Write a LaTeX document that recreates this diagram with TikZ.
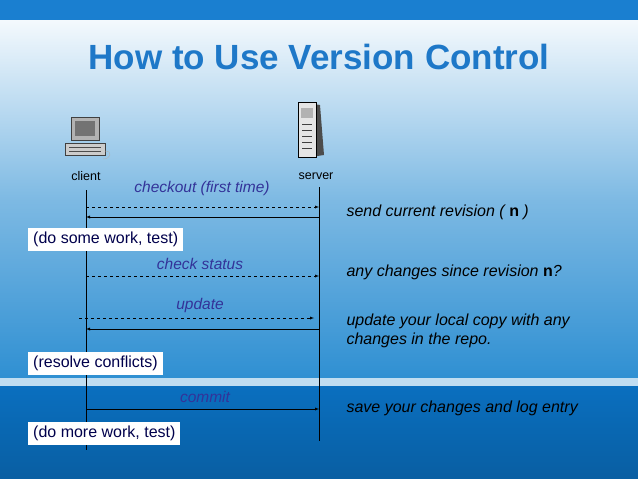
\documentclass[tikz,border=0pt]{standalone}
\usepackage{fontspec}
\setmainfont{Liberation Sans}
\begin{document}
\begin{tikzpicture}[x=1pt,y=-1pt,
  lab/.style={font=\itshape\fontsize{15.5}{18}\selectfont, text=blue!50!black!80!white},
  note/.style={font=\itshape\fontsize{16}{19}\selectfont, anchor=west, align=left},
  wbox/.style={fill=white, anchor=west, font=\fontsize{16}{18}\selectfont, text=blue!30!black, inner xsep=5pt, inner ysep=2pt, minimum height=23pt},
  msg/.style={-latex, thin},
  ret/.style={-latex, thin, dashed}]
\useasboundingbox (0,0) rectangle (638,479);
\definecolor{topbar}{HTML}{1A7FD0}
\definecolor{lightsky}{HTML}{F4F9FD}
\definecolor{midsky}{HTML}{2E8FD2}
\definecolor{deep}{HTML}{0A6FBF}
\definecolor{ttl}{HTML}{1E78C8}
\shade[top color=lightsky, bottom color=midsky, middle color=lightsky!40!midsky] (0,20) rectangle (638,380);
\fill[topbar] (0,0) rectangle (638,20);
\fill[white!70!midsky] (0,378) rectangle (638,386);
\shade[top color=deep, bottom color=deep!85!black] (0,386) rectangle (638,479);
\node[font=\bfseries\fontsize{35}{38}\selectfont, text=ttl] (title) at (319,57) {How to Use Version Control};
% client icon
\begin{scope}[shift={(85,137)}]
\fill[gray!60, draw=gray!50!black] (-14,-20) rectangle (14,3);
\fill[gray!90!black] (-10,-16) rectangle (10,-1);
\fill[gray!40, draw=gray!50!black] (-20,6) rectangle (20,18);
\draw[gray!60!black] (-16,10) -- (16,10) (-16,14) -- (16,14);
\draw[gray!60] (20,14) .. controls (28,14) and (26,22) .. (18,22);
\end{scope}
% server icon
\begin{scope}[shift={(310,130)}]
\fill[black!70] (-8,-28) -- (10,-25) -- (14,25) -- (-6,28) -- cycle;
\fill[gray!20, draw=black] (-12,-28) rectangle (6,27);
\fill[gray!60] (-9,-22) rectangle (3,-12);
\draw[gray!50!black] (-8,-6) -- (2,-6) (-8,0) -- (2,0) (-8,6) -- (2,6) (-8,12) -- (2,12) (-8,18)--(2,18);
\end{scope}
\node[font=\fontsize{12.5}{14}\selectfont] (cl) at (86,176) {client};
\node[font=\fontsize{12.5}{14}\selectfont] (sv) at (316,176) {server};
\coordinate (c0) at (86,190); \coordinate (c1) at (86,450);
\coordinate (s0) at (319,187); \coordinate (s1) at (319,441);
\draw (c0) -- (c1);
\draw (s0) -- (s1);
% arrows
\coordinate (a1) at (86,207); \coordinate (b1) at (319,207);
\coordinate (a2) at (86,217); \coordinate (b2) at (319,217);
\coordinate (a3) at (86,276); \coordinate (b3) at (319,276);
\coordinate (a4) at (79,318); \coordinate (b4) at (314,318);
\coordinate (a5) at (86,329); \coordinate (b5) at (319,329);
\coordinate (a6) at (86,409); \coordinate (b6) at (319,409);
\draw[ret] (a1) -- (b1);
\draw[msg] (b2) -- (a2);
\draw[ret] (a3) -- (b3);
\draw[ret] (a4) -- (b4);
\draw[msg] (b5) -- (a5);
\draw[msg] (a6) -- (b6);
\node[lab] (l1) at (202,188) {checkout (first time)};
\node[lab] (l2) at (200,264) {check status};
\node[lab] (l3) at (200,305) {update};
\node[lab] (l4) at (205,397) {commit};
\node[wbox] (w1) at (28,239) {(do some work, test)};
\node[wbox] (w2) at (28,363) {(resolve conflicts)};
\node[wbox] (w3) at (28,433) {(do more work, test)};
\node[note] (n1) at (343,212) {send current revision ( \textbf{\upshape n} )};
\node[note] (n2) at (343,272) {any changes since revision \textbf{\upshape n}?};
\node[note] (n3) at (343,331) {update your local copy with any\\changes in the repo.};
\node[note] (n4) at (343,408) {save your changes and log entry};
\end{tikzpicture}
\end{document}
